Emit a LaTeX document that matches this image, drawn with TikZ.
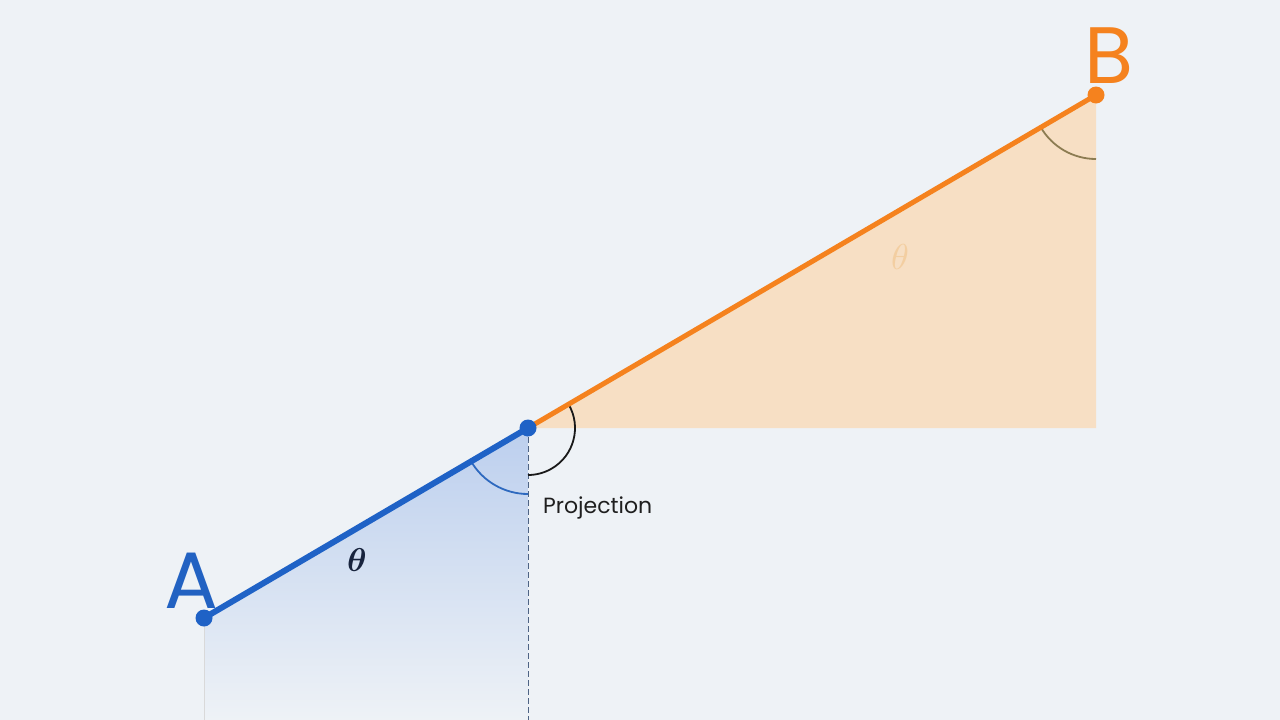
\documentclass[tikz,border=0pt]{standalone}
\usepackage{fontspec}
\setmainfont{Poppins}
\definecolor{bg}{HTML}{EEF2F6}
\definecolor{blueline}{HTML}{1F62C6}
\definecolor{bluelabel}{HTML}{2262C2}
\definecolor{orangeline}{HTML}{F5821E}
\definecolor{orangefill}{HTML}{F7DFC4}
\definecolor{bluetop}{HTML}{BCCFEE}
\definecolor{bluemid}{HTML}{C6D6F0}
\definecolor{dashcol}{HTML}{4E6384}
\definecolor{brownarc}{HTML}{8C7C52}
\definecolor{bluearc}{HTML}{2E69BF}
\definecolor{navy}{HTML}{18243E}
\definecolor{thetaorange}{HTML}{F0C185}
\tikzset{
  bigletter/.style={font=\fontsize{80}{80}\selectfont, inner sep=0pt},
  thetalabel/.style={inner sep=0pt},
  anglearc/.style={line width=1.8pt},
}
\begin{document}
\begin{tikzpicture}[x=1pt,y=-1pt]
\fill[bg] (0,0) rectangle (1280,720);
\useasboundingbox (0,0) rectangle (1280,720);
\coordinate (A) at (204,618);
\coordinate (M) at (528,428);
\coordinate (B) at (1096,95);
\coordinate (C) at (1096,428);
\coordinate (Ab) at (204,720);
\coordinate (Mb) at (528,720);
% fills
\fill[orangefill] (M) -- (B) -- (C) -- cycle;
\shade[top color=bluetop, middle color=bluemid, bottom color=bg] (A) -- (M) -- (Mb) -- (Ab) -- cycle;
% edges
\draw[gray!30, line width=0.8pt] (A) -- (Ab);
\draw[dashcol, dash pattern=on 6pt off 3pt, line width=1pt] (M) -- (Mb);
% angle arcs
\draw[bluearc, anglearc] (M) ++(210.4:66pt) arc[start angle=210.4, end angle=270, radius=66pt];
\draw[black!90, anglearc] (M) ++(30.4:47pt) arc[start angle=30.4, end angle=-90, radius=47pt];
\draw[brownarc, anglearc] (B) ++(210.4:64pt) arc[start angle=210.4, end angle=270, radius=64pt];
% segments
\draw[blueline, line width=6pt] (A) -- (M);
\draw[orangeline, line width=5pt] (M) -- (B);
\fill[blueline] (A) circle[radius=8.5pt];
\fill[blueline] (M) circle[radius=8.5pt];
\fill[orangeline] (B) circle[radius=8.5pt];
% labels
\node[bigletter, text=bluelabel] (lA) at (191,581) {A};
\node[bigletter, text=orangeline] (lB) at (1109,56) {B};
\node[thetalabel, text=navy] (t1) at (357,560) {\scalebox{3.3}{\boldmath$\theta$}};
\node[thetalabel, text=thetaorange, opacity=0.55] (t2) at (900,257) {\scalebox{3.6}{$\theta$}};
\node[font=\fontsize{22}{22}\selectfont, text=black!88, anchor=base west, inner sep=0pt] (proj) at (543,513) {Projection};
\end{tikzpicture}
\end{document}
